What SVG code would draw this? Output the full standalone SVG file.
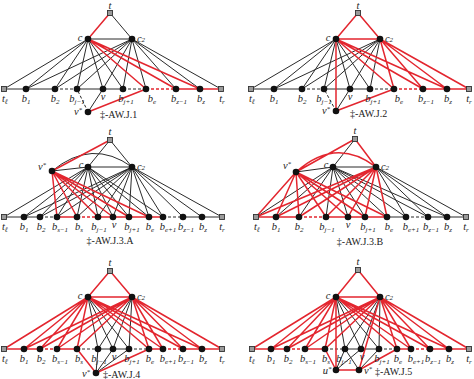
<svg xmlns="http://www.w3.org/2000/svg" width="474" height="379" viewBox="0 0 474 379">
<style>
.k{stroke:#2b2b2b;stroke-width:1;fill:none}
.kd{stroke:#2b2b2b;stroke-width:1;fill:none;stroke-dasharray:3 2}
.r{stroke:#e3262f;stroke-width:1.5;fill:none}
.rd{stroke:#e3262f;stroke-width:1.5;fill:none;stroke-dasharray:3 2}
.n{fill:#111}
.sq{fill:#9a9a9a;stroke:#333;stroke-width:0.9}
.lb{font-family:"Liberation Serif",serif;font-style:italic;font-size:10.5px;fill:#222;text-anchor:middle}
.s{font-size:7px}
.cap{font-family:"Liberation Serif",serif;font-size:10px;fill:#222}
</style>
<rect width="474" height="379" fill="#fff"/>
<g id="connectors">
<!-- Panel 1 -->
<path class="k" d="M110 13L132 39M88 39L132 39M88 39L4 89M88 39L26 89M88 39L55 89M88 39L77 89M88 39L103 89M88 39L123 89M132 39L26 89M132 39L55 89M132 39L77 89M132 39L103 89M132 39L123 89M132 39L146 89M132 39L176 89M132 39L200 89M132 39L221 89M88 112L103 89M4 89L55 89M77 89L123 89"/>
<path class="kd" d="M88 112L77 89M55 89L77 89M123 89L146 89"/>
<path class="rd" d="M146 89L176 89"/>
<path class="r" d="M110 13L88 39M88 39L146 89M88 39L176 89M88 39L200 89M88 112L146 89M176 89L221 89"/>
<!-- Panel 2 -->
<path class="k" d="M336 39L251 89M336 39L274 89M336 39L302 89M336 39L324 89M336 39L350 89M336 39L370 89M380 39L274 89M380 39L302 89M380 39L324 89M380 39L350 89M380 39L370 89M336 111L350 89M251 89L302 89M324 89L370 89"/>
<path class="kd" d="M336 111L324 89M302 89L324 89M370 89L394 89"/>
<path class="rd" d="M394 89L423 89"/>
<path class="r" d="M358 13L336 39M358 13L380 39M336 39L380 39M336 39L336 111M336 39L394 89M336 39L423 89M336 39L447 89M380 39L394 89M380 39L423 89M380 39L447 89M380 39L469 89M336 111L394 89M423 89L469 89"/>
<!-- Panel 3 -->
<path class="k" d="M110 140L88 167M110 140L132 167M52 171L88 167M88 167L132 167M52 171Q92 138 132 167M88 167L4 217M88 167L24 217M88 167L40 217M88 167L57 217M88 167L77 217M88 167L98 217M88 167L113 217M88 167L129 217M88 167L149 217M88 167L163 217M132 167L24 217M132 167L40 217M132 167L57 217M132 167L77 217M132 167L98 217M132 167L113 217M132 167L129 217M132 167L149 217M132 167L163 217M132 167L183 217M132 167L202 217M132 167L222 217M4 217L40 217M183 217L222 217"/>
<path class="kd" d="M40 217L57 217M163 217L183 217"/>
<path class="rd" d="M77 217L98 217"/>
<path class="r" d="M110 140L52 171M52 171L57 217M52 171L77 217M52 171L98 217M52 171L113 217M52 171L129 217M52 171L149 217M57 217L77 217M98 217L163 217"/>
<!-- Panel 4 -->
<path class="k" d="M355 139L333 167M296 172L333 167M333 167L376 167M333 167L256 217M333 167L276 217M333 167L299 217M333 167L326 217M333 167L348 217M333 167L365 217M333 167L387 217M333 167L406 217M333 167L428 217M333 167L447 217M376 167L406 217M376 167L428 217M376 167L447 217M376 167L466 217M387 217L406 217M428 217L466 217"/>
<path class="kd" d="M406 217L428 217"/>
<path class="rd" d="M299 217L326 217"/>
<path class="r" d="M355 139L296 172M355 139L376 167M296 172Q336 136 376 167M296 172L256 217M296 172L276 217M296 172L299 217M296 172L326 217M296 172L348 217M296 172L365 217M296 172L387 217M376 167L256 217M376 167L276 217M376 167L299 217M376 167L326 217M376 167L348 217M376 167L365 217M376 167L387 217M256 217L299 217M326 217L387 217"/>
<!-- Panel 5 -->
<path class="k" d="M88 297L98 349M88 297L113 349M88 297L129 349M132 297L98 349M132 297L113 349M132 297L129 349M96 373L98 349M96 373L113 349M96 373L129 349M98 349L129 349"/>
<path class="kd" d="M77 349L98 349M129 349L149 349"/>
<path class="rd" d="M40 349L57 349M163 349L183 349"/>
<path class="r" d="M110 271L88 297M110 271L132 297M88 297L132 297M88 297L4 349M88 297L24 349M88 297L40 349M88 297L57 349M88 297L77 349M88 297L149 349M88 297L163 349M88 297L183 349M88 297L202 349M132 297L24 349M132 297L40 349M132 297L57 349M132 297L77 349M132 297L149 349M132 297L163 349M132 297L183 349M132 297L202 349M132 297L222 349M96 373L77 349M96 373L149 349M4 349L40 349M57 349L77 349M149 349L163 349M183 349L222 349"/>
<!-- Panel 6 -->
<path class="k" d="M336 297L345 349M336 297L361 349M336 297L379 349M380 297L345 349M380 297L361 349M380 297L379 349M336 370L345 349M336 370L361 349M359 370L345 349M359 370L379 349M345 349L379 349"/>
<path class="kd" d="M325 349L345 349M379 349L397 349"/>
<path class="rd" d="M287 349L305 349M411 349L430 349"/>
<path class="r" d="M358 270L336 297M358 270L380 297M336 297L380 297M336 297L252 349M336 297L271 349M336 297L287 349M336 297L305 349M336 297L325 349M336 297L397 349M336 297L411 349M336 297L430 349M336 297L449 349M380 297L271 349M380 297L287 349M380 297L305 349M380 297L325 349M380 297L397 349M380 297L411 349M380 297L430 349M380 297L449 349M380 297L469 349M336 297L336 370M380 297L359 370M336 370L359 370M336 370L325 349M359 370L397 349M252 349L287 349M305 349L325 349M397 349L411 349M430 349L469 349"/>
</g>

<!-- Panel 1 nodes -->
<g id="p1-t"><rect class="sq" x="107.5" y="10.5" width="5" height="5"/><text class="lb" x="110" y="9">t</text></g>
<g id="p1-c1"><circle class="n" cx="88" cy="39" r="3.3"/><text class="lb" x="80" y="41">c</text></g>
<g id="p1-c2"><circle class="n" cx="132" cy="39" r="3.3"/><text class="lb" x="141" y="42">c<tspan class="s">2</tspan></text></g>
<g id="p1-tl"><rect class="sq" x="1.5" y="86.5" width="5" height="5"/><text class="lb" x="5" y="102">t<tspan class="s" dy="2">ℓ</tspan></text></g>
<g id="p1-b1"><circle class="n" cx="26" cy="89" r="3.3"/><text class="lb" x="26" y="102">b<tspan class="s" dy="2">1</tspan></text></g>
<g id="p1-b2"><circle class="n" cx="55" cy="89" r="3.3"/><text class="lb" x="55" y="102">b<tspan class="s" dy="2">2</tspan></text></g>
<g id="p1-bj-1"><circle class="n" cx="77" cy="89" r="3.3"/><text class="lb" x="77" y="102">b<tspan class="s" dy="2">j−1</tspan></text></g>
<g id="p1-v"><circle class="n" cx="103" cy="89" r="3.3"/><text class="lb" x="103" y="100">v</text></g>
<g id="p1-bj+1"><circle class="n" cx="123" cy="89" r="3.3"/><text class="lb" x="126" y="102">b<tspan class="s" dy="2">j+1</tspan></text></g>
<g id="p1-be"><circle class="n" cx="146" cy="89" r="3.3"/><text class="lb" x="152" y="102">b<tspan class="s" dy="2">e</tspan></text></g>
<g id="p1-bz-1"><circle class="n" cx="176" cy="89" r="3.3"/><text class="lb" x="179" y="102">b<tspan class="s" dy="2">z−1</tspan></text></g>
<g id="p1-bz"><circle class="n" cx="200" cy="89" r="3.3"/><text class="lb" x="201" y="102">b<tspan class="s" dy="2">z</tspan></text></g>
<g id="p1-tr"><rect class="sq" x="218.5" y="86.5" width="5" height="5"/><text class="lb" x="222" y="102">t<tspan class="s" dy="2">r</tspan></text></g>
<g id="p1-vs"><circle class="n" cx="88" cy="112" r="3.3"/><text class="lb" x="78" y="115">v<tspan class="s" dy="-3">*</tspan></text></g>
<text class="cap" x="100" y="118">‡-AW.J.1</text>

<!-- Panel 2 nodes -->
<g id="p2-t"><rect class="sq" x="355.5" y="10.5" width="5" height="5"/><text class="lb" x="358" y="9">t</text></g>
<g id="p2-c1"><circle class="n" cx="336" cy="39" r="3.3"/><text class="lb" x="328" y="41">c</text></g>
<g id="p2-c2"><circle class="n" cx="380" cy="39" r="3.3"/><text class="lb" x="389" y="42">c<tspan class="s">2</tspan></text></g>
<g id="p2-tl"><rect class="sq" x="248.5" y="86.5" width="5" height="5"/><text class="lb" x="252" y="102">t<tspan class="s" dy="2">ℓ</tspan></text></g>
<g id="p2-b1"><circle class="n" cx="274" cy="89" r="3.3"/><text class="lb" x="274" y="102">b<tspan class="s" dy="2">1</tspan></text></g>
<g id="p2-b2"><circle class="n" cx="302" cy="89" r="3.3"/><text class="lb" x="302" y="102">b<tspan class="s" dy="2">2</tspan></text></g>
<g id="p2-bj-1"><circle class="n" cx="324" cy="89" r="3.3"/><text class="lb" x="324" y="102">b<tspan class="s" dy="2">j−1</tspan></text></g>
<g id="p2-v"><circle class="n" cx="350" cy="89" r="3.3"/><text class="lb" x="350" y="100">v</text></g>
<g id="p2-bj+1"><circle class="n" cx="370" cy="89" r="3.3"/><text class="lb" x="373" y="102">b<tspan class="s" dy="2">j+1</tspan></text></g>
<g id="p2-be"><circle class="n" cx="394" cy="89" r="3.3"/><text class="lb" x="399" y="102">b<tspan class="s" dy="2">e</tspan></text></g>
<g id="p2-bz-1"><circle class="n" cx="423" cy="89" r="3.3"/><text class="lb" x="426" y="102">b<tspan class="s" dy="2">z−1</tspan></text></g>
<g id="p2-bz"><circle class="n" cx="447" cy="89" r="3.3"/><text class="lb" x="448" y="102">b<tspan class="s" dy="2">z</tspan></text></g>
<g id="p2-tr"><rect class="sq" x="466.5" y="86.5" width="5" height="5"/><text class="lb" x="469" y="102">t<tspan class="s" dy="2">r</tspan></text></g>
<g id="p2-vs"><circle class="n" cx="336" cy="111" r="3.3"/><text class="lb" x="326" y="114">v<tspan class="s" dy="-3">*</tspan></text></g>
<text class="cap" x="350" y="117">‡-AW.J.2</text>

<!-- Panel 3 nodes -->
<g id="p3-t"><rect class="sq" x="107.5" y="137.5" width="5" height="5"/><text class="lb" x="110" y="135">t</text></g>
<g id="p3-vs"><circle class="n" cx="52" cy="171" r="3.3"/><text class="lb" x="42" y="170">v<tspan class="s" dy="-3">*</tspan></text></g>
<g id="p3-c1"><circle class="n" cx="88" cy="167" r="3.3"/><text class="lb" x="81" y="168">c</text></g>
<g id="p3-c2"><circle class="n" cx="132" cy="167" r="3.3"/><text class="lb" x="141" y="170">c<tspan class="s">2</tspan></text></g>
<g id="p3-tl"><rect class="sq" x="1.5" y="214.5" width="5" height="5"/><text class="lb" x="5" y="230">t<tspan class="s" dy="2">ℓ</tspan></text></g>
<g id="p3-b1"><circle class="n" cx="24" cy="217" r="3.3"/><text class="lb" x="24" y="230">b<tspan class="s" dy="2">1</tspan></text></g>
<g id="p3-b2"><circle class="n" cx="40" cy="217" r="3.3"/><text class="lb" x="41" y="230">b<tspan class="s" dy="2">2</tspan></text></g>
<g id="p3-bs-1"><circle class="n" cx="57" cy="217" r="3.3"/><text class="lb" x="60" y="230">b<tspan class="s" dy="2">s−1</tspan></text></g>
<g id="p3-bs"><circle class="n" cx="77" cy="217" r="3.3"/><text class="lb" x="79" y="230">b<tspan class="s" dy="2">s</tspan></text></g>
<g id="p3-bj-1"><circle class="n" cx="98" cy="217" r="3.3"/><text class="lb" x="99" y="230">b<tspan class="s" dy="2">j−1</tspan></text></g>
<g id="p3-v"><circle class="n" cx="113" cy="217" r="3.3"/><text class="lb" x="114" y="228">v</text></g>
<g id="p3-bj+1"><circle class="n" cx="129" cy="217" r="3.3"/><text class="lb" x="132" y="230">b<tspan class="s" dy="2">j+1</tspan></text></g>
<g id="p3-be"><circle class="n" cx="149" cy="217" r="3.3"/><text class="lb" x="150" y="230">b<tspan class="s" dy="2">e</tspan></text></g>
<g id="p3-be+1"><circle class="n" cx="163" cy="217" r="3.3"/><text class="lb" x="168" y="230">b<tspan class="s" dy="2">e+1</tspan></text></g>
<g id="p3-bz-1"><circle class="n" cx="183" cy="217" r="3.3"/><text class="lb" x="186" y="230">b<tspan class="s" dy="2">z−1</tspan></text></g>
<g id="p3-bz"><circle class="n" cx="202" cy="217" r="3.3"/><text class="lb" x="203" y="230">b<tspan class="s" dy="2">z</tspan></text></g>
<g id="p3-tr"><rect class="sq" x="219.5" y="214.5" width="5" height="5"/><text class="lb" x="222" y="230">t<tspan class="s" dy="2">r</tspan></text></g>
<text class="cap" x="110" y="244" text-anchor="middle">‡-AW.J.3.A</text>

<!-- Panel 4 nodes -->
<g id="p4-t"><rect class="sq" x="352.5" y="136.5" width="5" height="5"/><text class="lb" x="355" y="134">t</text></g>
<g id="p4-vs"><circle class="n" cx="296" cy="172" r="3.3"/><text class="lb" x="287" y="169">v<tspan class="s" dy="-3">*</tspan></text></g>
<g id="p4-c1"><circle class="n" cx="333" cy="167" r="3.3"/><text class="lb" x="326" y="168">c</text></g>
<g id="p4-c2"><circle class="n" cx="376" cy="167" r="3.3"/><text class="lb" x="385" y="170">c<tspan class="s">2</tspan></text></g>
<g id="p4-tl"><rect class="sq" x="253.5" y="214.5" width="5" height="5"/><text class="lb" x="257" y="230">t<tspan class="s" dy="2">ℓ</tspan></text></g>
<g id="p4-b1"><circle class="n" cx="276" cy="217" r="3.3"/><text class="lb" x="276" y="230">b<tspan class="s" dy="2">1</tspan></text></g>
<g id="p4-b2"><circle class="n" cx="299" cy="217" r="3.3"/><text class="lb" x="299" y="230">b<tspan class="s" dy="2">2</tspan></text></g>
<g id="p4-bj-1"><circle class="n" cx="326" cy="217" r="3.3"/><text class="lb" x="327" y="230">b<tspan class="s" dy="2">j−1</tspan></text></g>
<g id="p4-v"><circle class="n" cx="348" cy="217" r="3.3"/><text class="lb" x="348" y="228">v</text></g>
<g id="p4-bj+1"><circle class="n" cx="365" cy="217" r="3.3"/><text class="lb" x="368" y="230">b<tspan class="s" dy="2">j+1</tspan></text></g>
<g id="p4-be"><circle class="n" cx="387" cy="217" r="3.3"/><text class="lb" x="389" y="230">b<tspan class="s" dy="2">e</tspan></text></g>
<g id="p4-be+1"><circle class="n" cx="406" cy="217" r="3.3"/><text class="lb" x="411" y="230">b<tspan class="s" dy="2">e+1</tspan></text></g>
<g id="p4-bz-1"><circle class="n" cx="428" cy="217" r="3.3"/><text class="lb" x="431" y="230">b<tspan class="s" dy="2">z−1</tspan></text></g>
<g id="p4-bz"><circle class="n" cx="447" cy="217" r="3.3"/><text class="lb" x="448" y="230">b<tspan class="s" dy="2">z</tspan></text></g>
<g id="p4-tr"><rect class="sq" x="463.5" y="214.5" width="5" height="5"/><text class="lb" x="466" y="230">t<tspan class="s" dy="2">r</tspan></text></g>
<text class="cap" x="360" y="245" text-anchor="middle">‡-AW.J.3.B</text>

<!-- Panel 5 nodes -->
<g id="p5-t"><rect class="sq" x="107.5" y="268.5" width="5" height="5"/><text class="lb" x="110" y="266">t</text></g>
<g id="p5-c1"><circle class="n" cx="88" cy="297" r="3.3"/><text class="lb" x="80" y="299">c</text></g>
<g id="p5-c2"><circle class="n" cx="132" cy="297" r="3.3"/><text class="lb" x="141" y="300">c<tspan class="s">2</tspan></text></g>
<g id="p5-tl"><rect class="sq" x="1.5" y="346.5" width="5" height="5"/><text class="lb" x="5" y="362">t<tspan class="s" dy="2">ℓ</tspan></text></g>
<g id="p5-b1"><circle class="n" cx="24" cy="349" r="3.3"/><text class="lb" x="24" y="362">b<tspan class="s" dy="2">1</tspan></text></g>
<g id="p5-b2"><circle class="n" cx="40" cy="349" r="3.3"/><text class="lb" x="41" y="362">b<tspan class="s" dy="2">2</tspan></text></g>
<g id="p5-bs-1"><circle class="n" cx="57" cy="349" r="3.3"/><text class="lb" x="60" y="362">b<tspan class="s" dy="2">s−1</tspan></text></g>
<g id="p5-bs"><circle class="n" cx="77" cy="349" r="3.3"/><text class="lb" x="79" y="362">b<tspan class="s" dy="2">s</tspan></text></g>
<g id="p5-bj-1"><circle class="n" cx="98" cy="349" r="3.3"/><text class="lb" x="99" y="362">b<tspan class="s" dy="2">j−1</tspan></text></g>
<g id="p5-v"><circle class="n" cx="113" cy="349" r="3.3"/><text class="lb" x="114" y="360">v</text></g>
<g id="p5-bj+1"><circle class="n" cx="129" cy="349" r="3.3"/><text class="lb" x="132" y="362">b<tspan class="s" dy="2">j+1</tspan></text></g>
<g id="p5-be"><circle class="n" cx="149" cy="349" r="3.3"/><text class="lb" x="150" y="362">b<tspan class="s" dy="2">e</tspan></text></g>
<g id="p5-be+1"><circle class="n" cx="163" cy="349" r="3.3"/><text class="lb" x="168" y="362">b<tspan class="s" dy="2">e+1</tspan></text></g>
<g id="p5-bz-1"><circle class="n" cx="183" cy="349" r="3.3"/><text class="lb" x="186" y="362">b<tspan class="s" dy="2">z−1</tspan></text></g>
<g id="p5-bz"><circle class="n" cx="202" cy="349" r="3.3"/><text class="lb" x="203" y="362">b<tspan class="s" dy="2">z</tspan></text></g>
<g id="p5-tr"><rect class="sq" x="219.5" y="346.5" width="5" height="5"/><text class="lb" x="222" y="362">t<tspan class="s" dy="2">r</tspan></text></g>
<g id="p5-vs"><circle class="n" cx="96" cy="373" r="3.3"/><text class="lb" x="86" y="377">v<tspan class="s" dy="-3">*</tspan></text></g>
<text class="cap" x="103" y="378">‡-AW.J.4</text>

<!-- Panel 6 nodes -->
<g id="p6-t"><rect class="sq" x="355.5" y="267.5" width="5" height="5"/><text class="lb" x="358" y="265">t</text></g>
<g id="p6-c1"><circle class="n" cx="336" cy="297" r="3.3"/><text class="lb" x="328" y="299">c</text></g>
<g id="p6-c2"><circle class="n" cx="380" cy="297" r="3.3"/><text class="lb" x="389" y="300">c<tspan class="s">2</tspan></text></g>
<g id="p6-tl"><rect class="sq" x="249.5" y="346.5" width="5" height="5"/><text class="lb" x="252" y="362">t<tspan class="s" dy="2">ℓ</tspan></text></g>
<g id="p6-b1"><circle class="n" cx="271" cy="349" r="3.3"/><text class="lb" x="271" y="362">b<tspan class="s" dy="2">1</tspan></text></g>
<g id="p6-b2"><circle class="n" cx="287" cy="349" r="3.3"/><text class="lb" x="288" y="362">b<tspan class="s" dy="2">2</tspan></text></g>
<g id="p6-bs-1"><circle class="n" cx="305" cy="349" r="3.3"/><text class="lb" x="308" y="362">b<tspan class="s" dy="2">s−1</tspan></text></g>
<g id="p6-bs"><circle class="n" cx="325" cy="349" r="3.3"/><text class="lb" x="326" y="362">b<tspan class="s" dy="2">s</tspan></text></g>
<g id="p6-bj-1"><circle class="n" cx="345" cy="349" r="3.3"/><text class="lb" x="344" y="362">b<tspan class="s" dy="2">j−1</tspan></text></g>
<g id="p6-v"><circle class="n" cx="361" cy="349" r="3.3"/><text class="lb" x="362" y="360">v</text></g>
<g id="p6-bj+1"><circle class="n" cx="379" cy="349" r="3.3"/><text class="lb" x="382" y="362">b<tspan class="s" dy="2">j+1</tspan></text></g>
<g id="p6-be"><circle class="n" cx="397" cy="349" r="3.3"/><text class="lb" x="398" y="362">b<tspan class="s" dy="2">e</tspan></text></g>
<g id="p6-be+1"><circle class="n" cx="411" cy="349" r="3.3"/><text class="lb" x="416" y="362">b<tspan class="s" dy="2">e+1</tspan></text></g>
<g id="p6-bz-1"><circle class="n" cx="430" cy="349" r="3.3"/><text class="lb" x="433" y="362">b<tspan class="s" dy="2">z−1</tspan></text></g>
<g id="p6-bz"><circle class="n" cx="449" cy="349" r="3.3"/><text class="lb" x="450" y="362">b<tspan class="s" dy="2">z</tspan></text></g>
<g id="p6-tr"><rect class="sq" x="466.5" y="346.5" width="5" height="5"/><text class="lb" x="469" y="362">t<tspan class="s" dy="2">r</tspan></text></g>
<g id="p6-us"><circle class="n" cx="336" cy="370" r="3.3"/><text class="lb" x="327" y="374">u<tspan class="s" dy="-3">*</tspan></text></g>
<g id="p6-vs"><circle class="n" cx="359" cy="370" r="3.3"/><text class="lb" x="368" y="374">v<tspan class="s" dy="-3">*</tspan></text></g>
<text class="cap" x="375" y="375">‡-AW.J.5</text>
</svg>
